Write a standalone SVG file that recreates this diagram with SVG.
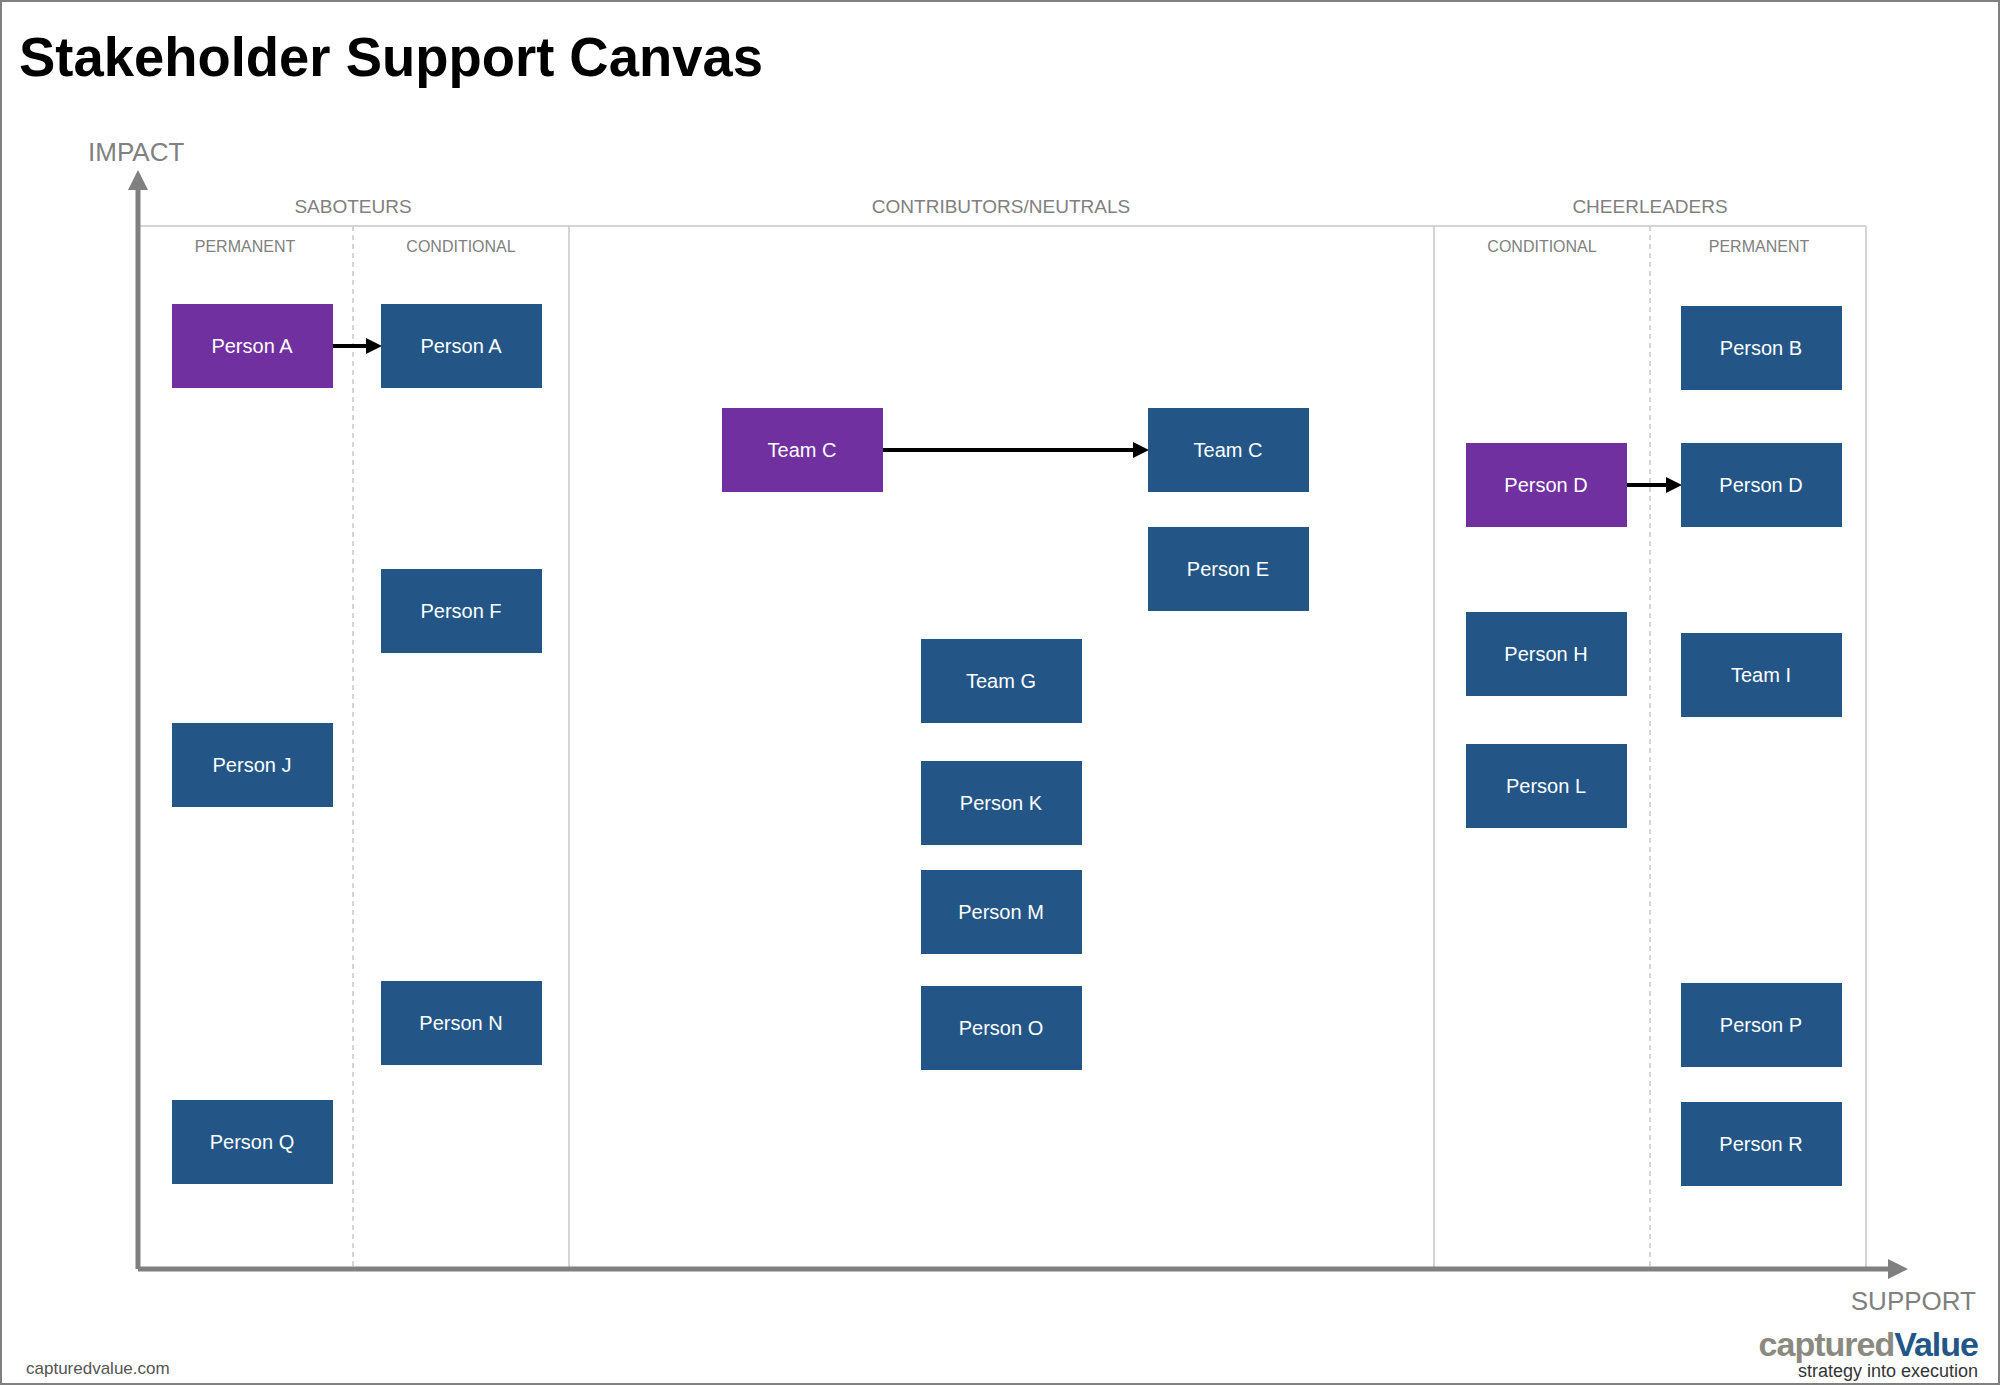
<svg xmlns="http://www.w3.org/2000/svg" width="2000" height="1385" viewBox="0 0 2000 1385">
<defs>
<style>
text{font-family:"Liberation Sans",Arial,sans-serif}
.b rect{fill:#235687}
.p rect{fill:#7030A0}
.n text{fill:#fff;font-size:20px;text-anchor:middle}
.ax{font-size:26px;fill:#808080}
.h{font-size:19px;fill:#808080;text-anchor:middle}
.s{font-size:16px;fill:#808080;text-anchor:middle}
.grid{stroke:#c8c8c8;stroke-width:1.5;fill:none}
.dash{stroke:#c8c8c8;stroke-width:1.5;stroke-dasharray:5 4}
</style>
<marker id="ga" markerWidth="4" markerHeight="4" refX="2" refY="2" orient="auto" markerUnits="strokeWidth"><path d="M0,0L4,2L0,4z" fill="#808080"/></marker>
<marker id="ka" markerWidth="4" markerHeight="4" refX="3" refY="2" orient="auto" markerUnits="strokeWidth"><path d="M0,0L4,2L0,4z" fill="#000"/></marker>
</defs>
<rect x="1" y="1" width="1998" height="1383" fill="#fff" stroke="#808080" stroke-width="2"/>
<text x="19" y="76" font-size="56" font-weight="bold" fill="#000" textLength="744" lengthAdjust="spacingAndGlyphs">Stakeholder Support Canvas</text>
<text class="ax" x="88" y="161">IMPACT</text>
<text class="ax" x="1976" y="1310" text-anchor="end">SUPPORT</text>
<g id="grid">
<path class="grid" d="M138,226H1866M569,226V1269M1434,226V1269M1866,226V1269"/>
<path class="dash" d="M353,226V1269M1650,226V1269"/>
</g>
<g id="axes">
<line x1="138" y1="1269" x2="138" y2="180" stroke="#808080" stroke-width="5" marker-end="url(#ga)"/>
<line x1="138" y1="1269" x2="1898" y2="1269" stroke="#808080" stroke-width="5" marker-end="url(#ga)"/>
</g>
<text class="h" x="353" y="213">SABOTEURS</text>
<text class="h" x="1001" y="213">CONTRIBUTORS/NEUTRALS</text>
<text class="h" x="1650" y="213">CHEERLEADERS</text>
<text class="s" x="245" y="252">PERMANENT</text>
<text class="s" x="461" y="252">CONDITIONAL</text>
<text class="s" x="1542" y="252">CONDITIONAL</text>
<text class="s" x="1759" y="252">PERMANENT</text>
<g id="connectors" stroke="#000" stroke-width="4">
<line x1="333" y1="346" x2="378" y2="346" marker-end="url(#ka)"/>
<line x1="883" y1="450" x2="1145" y2="450" marker-end="url(#ka)"/>
<line x1="1627" y1="485" x2="1678" y2="485" marker-end="url(#ka)"/>
</g>
<g id="personA1" class="n p"><rect x="172" y="304" width="161" height="84"/><text x="252" y="353">Person A</text></g>
<g id="personA2" class="n b"><rect x="381" y="304" width="161" height="84"/><text x="461" y="353">Person A</text></g>
<g id="teamC1" class="n p"><rect x="722" y="408" width="161" height="84"/><text x="802" y="457">Team C</text></g>
<g id="teamC2" class="n b"><rect x="1148" y="408" width="161" height="84"/><text x="1228" y="457">Team C</text></g>
<g id="personE" class="n b"><rect x="1148" y="527" width="161" height="84"/><text x="1228" y="576">Person E</text></g>
<g id="personF" class="n b"><rect x="381" y="569" width="161" height="84"/><text x="461" y="618">Person F</text></g>
<g id="teamG" class="n b"><rect x="921" y="639" width="161" height="84"/><text x="1001" y="688">Team G</text></g>
<g id="personJ" class="n b"><rect x="172" y="723" width="161" height="84"/><text x="252" y="772">Person J</text></g>
<g id="personK" class="n b"><rect x="921" y="761" width="161" height="84"/><text x="1001" y="810">Person K</text></g>
<g id="personM" class="n b"><rect x="921" y="870" width="161" height="84"/><text x="1001" y="919">Person M</text></g>
<g id="personO" class="n b"><rect x="921" y="986" width="161" height="84"/><text x="1001" y="1035">Person O</text></g>
<g id="personN" class="n b"><rect x="381" y="981" width="161" height="84"/><text x="461" y="1030">Person N</text></g>
<g id="personQ" class="n b"><rect x="172" y="1100" width="161" height="84"/><text x="252" y="1149">Person Q</text></g>
<g id="personB" class="n b"><rect x="1681" y="306" width="161" height="84"/><text x="1761" y="355">Person B</text></g>
<g id="personD1" class="n p"><rect x="1466" y="443" width="161" height="84"/><text x="1546" y="492">Person D</text></g>
<g id="personD2" class="n b"><rect x="1681" y="443" width="161" height="84"/><text x="1761" y="492">Person D</text></g>
<g id="personH" class="n b"><rect x="1466" y="612" width="161" height="84"/><text x="1546" y="661">Person H</text></g>
<g id="teamI" class="n b"><rect x="1681" y="633" width="161" height="84"/><text x="1761" y="682">Team I</text></g>
<g id="personL" class="n b"><rect x="1466" y="744" width="161" height="84"/><text x="1546" y="793">Person L</text></g>
<g id="personP" class="n b"><rect x="1681" y="983" width="161" height="84"/><text x="1761" y="1032">Person P</text></g>
<g id="personR" class="n b"><rect x="1681" y="1102" width="161" height="84"/><text x="1761" y="1151">Person R</text></g>
<text x="26" y="1374" font-size="17" fill="#555">capturedvalue.com</text>
<text x="1978" y="1356" font-size="34" font-weight="bold" text-anchor="end" letter-spacing="-1"><tspan fill="#8a8a80">captured</tspan><tspan fill="#235687">Value</tspan></text>
<text x="1978" y="1377" font-size="18" fill="#333" text-anchor="end">strategy into execution</text>
</svg>
